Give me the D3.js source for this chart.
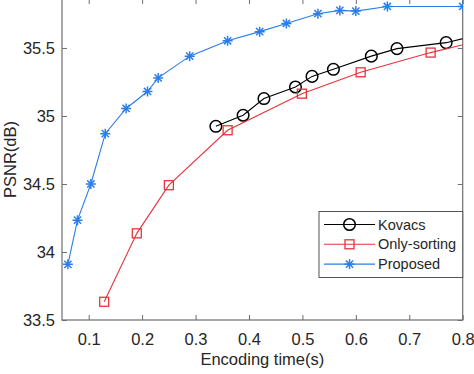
<!DOCTYPE html>
<html>
<head>
  <meta charset="utf-8">
  <script src="https://d3js.org/d3.v7.min.js"></script>
  <style>
    body { margin: 0; background: #fff; }
    text { font-family: "Liberation Sans", Arial, sans-serif; fill: #262626; }
  </style>
</head>
<body>
<script>
// values
var kovacsX = [0.338, 0.389, 0.428, 0.487, 0.518, 0.558, 0.629, 0.677, 0.769, 0.86];
var kovacsY = [34.924, 35.005, 35.128, 35.213, 35.291, 35.343, 35.44, 35.495, 35.539, 35.625];

var sortingX = [0.129, 0.190, 0.250, 0.360, 0.499, 0.609, 0.740, 0.86];
var sortingY = [33.634, 34.137, 34.491, 34.895, 35.164, 35.321, 35.466, 35.58];

var proposedX = [0.061, 0.079, 0.104, 0.131, 0.170, 0.210, 0.230, 0.289, 0.360, 0.420, 0.470, 0.529, 0.570, 0.600, 0.659, 0.80];
var proposedY = [33.909, 34.234, 34.5, 34.87, 35.055, 35.18, 35.28, 35.44, 35.553, 35.62, 35.68, 35.752, 35.776, 35.771, 35.805, 35.805];

var xTicks = [0.1, 0.2, 0.3, 0.4, 0.5, 0.6, 0.7, 0.8];
var yTicks = [33.5, 34, 34.5, 35, 35.5];
var seriesNames = ["Kovacs", "Only-sorting", "Proposed"];

var width = 474, height = 374;
var plotL = 62, plotR = 462.7, plotT = -1, plotB = 320;

var svg = d3.select("body").append("svg")
    .attr("width", width)
    .attr("height", height);

var x = d3.scaleLinear().domain([0.05, 0.8]).range([plotL, plotR]);
var y = d3.scaleLinear().domain([33.5, 35.86]).range([plotB, plotT]);

svg.append("defs").append("clipPath").attr("id", "clip")
  .append("rect")
    .attr("x", plotL).attr("y", plotT)
    .attr("width", plotR - plotL).attr("height", plotB - plotT);

// ticks pointing inward, on all four sides like matlab
var tickLen = 5;
var axisColor = "#6e6e6e";
var fmt = function (d) { return String(d); };

var bottomAxis = d3.axisBottom(x).tickValues(xTicks).tickSize(-tickLen).tickPadding(13).tickFormat(fmt);
var topAxis = d3.axisTop(x).tickValues(xTicks).tickSize(-tickLen).tickFormat("");
var leftAxis = d3.axisLeft(y).tickValues(yTicks).tickSize(-tickLen).tickPadding(7).tickFormat(fmt);
var rightAxis = d3.axisRight(y).tickValues(yTicks).tickSize(-tickLen).tickFormat("");

function styleAxis(g) {
  g.select(".domain").remove();
  g.selectAll("line").attr("stroke", axisColor);
  g.selectAll("text").style("font-size", "16.5px").attr("fill", "#262626")
    .style("font-family", "'Liberation Sans', Arial, sans-serif");
}

svg.append("g").attr("transform", "translate(0," + plotB + ")").call(bottomAxis).call(styleAxis);
svg.append("g").attr("transform", "translate(0," + plotT + ")").call(topAxis).call(styleAxis);
svg.append("g").attr("transform", "translate(" + plotL + ",0)").call(leftAxis).call(styleAxis);
svg.append("g").attr("transform", "translate(" + plotR + ",0)").call(rightAxis).call(styleAxis);

svg.append("rect")
    .attr("x", plotL).attr("y", plotT)
    .attr("width", plotR - plotL).attr("height", plotB - plotT)
    .attr("fill", "none")
    .attr("stroke", axisColor)
    .attr("stroke-width", 1.2);

svg.append("text")
    .attr("x", (plotL + plotR) / 2)
    .attr("y", 365)
    .attr("text-anchor", "middle")
    .style("font-size", "16.5px")
    .text("Encoding time(s)");

svg.append("text")
    .attr("transform", "translate(16," + ((plotT + plotB) / 2) + ") rotate(-90)")
    .attr("text-anchor", "middle")
    .style("font-size", "16.5px")
    .text("PSNR(dB)");

var colors = ["#000000", "#e8323c", "#2b7de9"];

var series = [
  { name: seriesNames[0], xs: kovacsX, ys: kovacsY, color: colors[0], marker: "circle" },
  { name: seriesNames[1], xs: sortingX, ys: sortingY, color: colors[1], marker: "square" },
  { name: seriesNames[2], xs: proposedX, ys: proposedY, color: colors[2], marker: "star" }
];

function drawMarker(g, type, color) {
  if (type === "circle") {
    g.append("circle").attr("r", 5.8).attr("fill", "none")
      .attr("stroke", color).attr("stroke-width", 1.5);
  } else if (type === "square") {
    g.append("rect").attr("x", -4.5).attr("y", -4.5).attr("width", 9).attr("height", 9)
      .attr("fill", "none").attr("stroke", color).attr("stroke-width", 1.3);
  } else {
    var r = 5;
    [[0, -r, 0, r], [-r, 0, r, 0], [-3.6, -3.6, 3.6, 3.6], [-3.6, 3.6, 3.6, -3.6]].forEach(function (l) {
      g.append("line")
        .attr("x1", l[0]).attr("y1", l[1]).attr("x2", l[2]).attr("y2", l[3])
        .attr("stroke", color).attr("stroke-width", 1.5);
    });
  }
}

var plot = svg.append("g").attr("clip-path", "url(#clip)");

var line = d3.line().x(function (d) { return x(d[0]); }).y(function (d) { return y(d[1]); });

series.forEach(function (s) {
  var pts = s.xs.map(function (v, i) { return [v, s.ys[i]]; });
  plot.append("path")
      .attr("d", line(pts))
      .attr("fill", "none")
      .attr("stroke", s.color)
      .attr("stroke-width", 1.1);
  pts.forEach(function (p) {
    var g = plot.append("g").attr("transform", "translate(" + x(p[0]) + "," + y(p[1]) + ")");
    drawMarker(g, s.marker, s.color);
  });
});

// legend
var lx = 319, ly = 211.5, lw = plotR - lx, lh = 66;
var legend = svg.append("g");
legend.append("rect")
    .attr("x", lx).attr("y", ly).attr("width", lw).attr("height", lh)
    .attr("fill", "#fff").attr("stroke", "#555").attr("stroke-width", 1);

series.forEach(function (s, i) {
  var cy = 224.5 + i * 19.8;
  legend.append("line")
      .attr("x1", 324).attr("x2", 375).attr("y1", cy).attr("y2", cy)
      .attr("stroke", s.color).attr("stroke-width", 1.1);
  var g = legend.append("g").attr("transform", "translate(349.5," + cy + ")");
  drawMarker(g, s.marker, s.color);
  legend.append("text")
      .attr("x", 378).attr("y", cy + 5)
      .style("font-size", "14.5px")
      .text(s.name);
});
</script>
</body>
</html>
